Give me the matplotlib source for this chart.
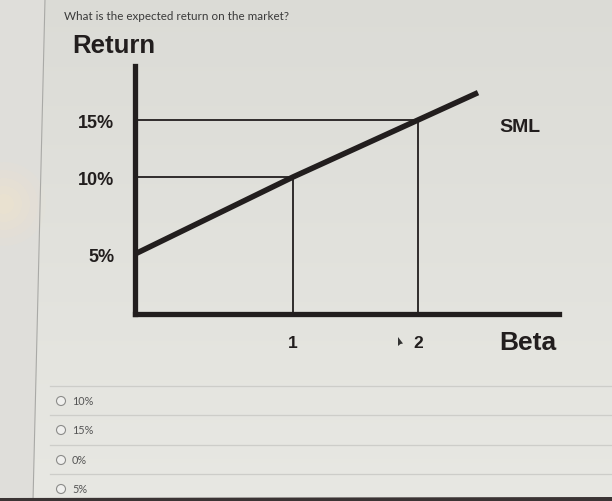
import matplotlib
matplotlib.use("Agg")
import matplotlib.pyplot as plt
import numpy as np
from matplotlib.patches import Circle, Polygon

# --- chart data ---
sml_beta = [0, 1, 2, 2.48]
sml_return = [5, 10, 15, 17.4]
guide_beta = [1, 2]
guide_return = [10, 15]
ytick_vals = [5, 10, 15]
ytick_labels = ["5%", "10%", "15%"]
xtick_vals = [1, 2]
xtick_labels = ["1", "2"]
question = "What is the expected return on the market?"
options = ["10%", "15%", "0%", "5%"]

# the drawing is a sketch, not to scale: anchor values to where they sit in the photo
X_ANCHOR = [0, 1, 2]
X_PIX = [135, 293, 418]
Y_ANCHOR = [0, 5, 10, 15]
Y_PIX = [-315, -255, -178, -121]

W, H = 612, 502
INK = "#221e1e"
BOLD = "Liberation Sans"


def pw(v, a, b):
    shape = np.shape(v)
    v = np.array(v, float, ndmin=1)
    a = np.asarray(a, float)
    b = np.asarray(b, float)
    out = np.interp(v, a, b)
    lo = v < a[0]
    hi = v > a[-1]
    out[lo] = b[0] + (v[lo] - a[0]) * (b[1] - b[0]) / (a[1] - a[0])
    out[hi] = b[-1] + (v[hi] - a[-1]) * (b[-1] - b[-2]) / (a[-1] - a[-2])
    return out.reshape(shape)


def xf(v):
    return pw(v, X_ANCHOR, X_PIX)


def xi(p):
    return pw(p, X_PIX, X_ANCHOR)


def yf(v):
    return pw(v, Y_ANCHOR, Y_PIX)


def yi(p):
    return pw(p, Y_PIX, Y_ANCHOR)


fig = plt.figure(figsize=(W / 100, H / 100), dpi=100)

# background (photo of a screen)
bg = fig.add_axes([0, 0, 1, 1])
bg.set_xlim(0, W)
bg.set_ylim(H, 0)
bg.axis("off")
grad = np.linspace(0, 1, 200)[:, None] * np.ones((1, 2))
r = 0.86 + 0.05 * grad
img = np.dstack([r, r, r - 0.02])
bg.imshow(img, extent=[0, W, H, 0], aspect="auto", zorder=0)
# left margin strip with a soft warm glare
bg.add_patch(Polygon([[0, 0], [45, 0], [33, H], [0, H]], closed=True,
                     fc="#dfdeda", ec="none", zorder=1))
for rad, a in [(42, 0.10), (34, 0.12), (26, 0.15), (18, 0.18), (10, 0.2)]:
    bg.add_patch(Circle((4, 205), rad, fc="#f3e6cc", ec="none", alpha=a, zorder=1))
bg.plot([45, 33], [0, H], color="#a9a9a6", lw=0.8, zorder=2)
bg.add_patch(Polygon([[0, 499], [W, 498], [W, H], [0, H]], closed=True,
                     fc="#3b3434", ec="none", zorder=2))

bg.text(64, 17, question, fontsize=8.4, family="Lato", color="#3a3a3a",
        ha="left", va="center", zorder=3)
bg.text(72, 46, "Return", fontsize=18.5, family=BOLD, weight="bold", color=INK,
        ha="left", va="center", zorder=3)
bg.text(499, 127, "SML", fontsize=14, family=BOLD, weight="bold", color=INK,
        ha="left", va="center", zorder=3)
bg.text(499, 343, "Beta", fontsize=19, family=BOLD, weight="bold", color=INK,
        ha="left", va="center", zorder=3)

# mouse pointer next to "2"
bg.add_patch(Polygon([[398, 338], [398, 347], [400.5, 345], [403, 344.5]],
                     closed=True, fc="#333", ec="none", zorder=3))

# answer options
sep_y = [387, 416, 446, 475]
for k, lab in enumerate(options):
    bg.plot([50, W], [sep_y[k], sep_y[k]], color="#cdcdc9", lw=0.9, zorder=2)
    yc = sep_y[k] + 15
    bg.add_patch(Circle((61, yc), 4.5, fc="#f0f0ee", ec="#8c8c8a", lw=0.8, zorder=3))
    bg.text(72, yc, lab, fontsize=7.8, family="Lato", color="#555555",
            ha="left", va="center", zorder=3)

# the SML chart
ax = fig.add_axes([135 / W, 1 - 315 / H, (559 - 135) / W, (315 - 67) / H])
ax.set_facecolor("none")
ax.set_xscale("function", functions=(xf, xi))
ax.set_yscale("function", functions=(yf, yi))
ax.set_xlim(0, float(xi(559)))
ax.set_ylim(0, float(yi(-67)))

for s in ["top", "right"]:
    ax.spines[s].set_visible(False)
for s in ["left", "bottom"]:
    ax.spines[s].set_linewidth(3.8)
    ax.spines[s].set_color(INK)
    ax.spines[s].set_capstyle("projecting")

for b, rr in zip(guide_beta, guide_return):
    ax.plot([0, b], [rr, rr], color=INK, lw=1.3, solid_capstyle="butt")
    ax.plot([b, b], [0, rr], color=INK, lw=1.3, solid_capstyle="butt")

ax.plot(sml_beta, sml_return, color=INK, lw=4.0, solid_capstyle="butt",
        clip_on=False, zorder=4)

ax.set_yticks(ytick_vals)
ax.set_yticklabels(ytick_labels, fontsize=13, family=BOLD, weight="bold", color=INK)
ax.set_xticks(xtick_vals)
ax.set_xticklabels(xtick_labels, fontsize=12.5, family=BOLD, weight="bold", color=INK)
ax.tick_params(axis="y", length=0, pad=15)
ax.tick_params(axis="x", length=0, pad=15)
ax.minorticks_off()

fig.savefig("out.png", dpi=100)
